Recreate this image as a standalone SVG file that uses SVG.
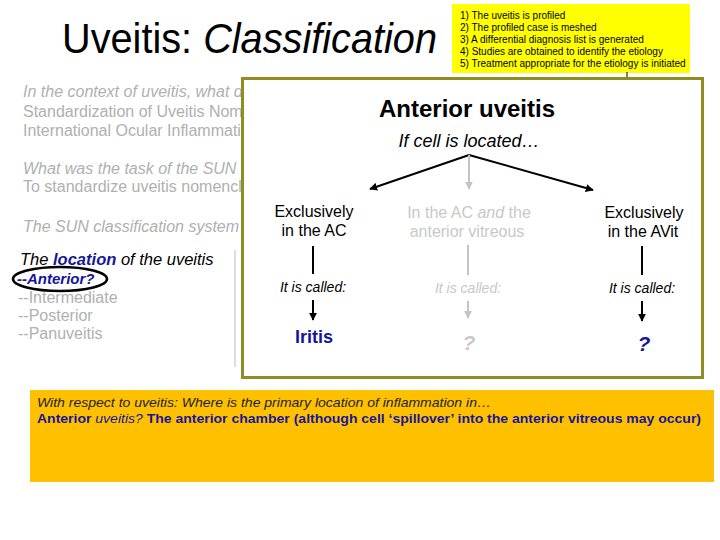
<svg xmlns="http://www.w3.org/2000/svg" width="720" height="540" viewBox="0 0 720 540">
<defs>
<marker id="ab" viewBox="0 0 10 10" refX="9" refY="5" markerWidth="4" markerHeight="4" orient="auto"><path d="M0,0 L10,5 L0,10 z" fill="#000"/></marker>
<marker id="ag" viewBox="0 0 10 10" refX="9" refY="5" markerWidth="4" markerHeight="4" orient="auto"><path d="M0,0 L10,5 L0,10 z" fill="#C4C4C4"/></marker>
</defs>
<style>
text{font-family:"Liberation Sans",Arial,sans-serif}
.g{fill:#B0B0B0;font-size:16px}
.lg{fill:#C8C8C8}
.it{font-style:italic}
.b{font-weight:bold}
.nv{fill:#16169A}
.col{font-size:16px;text-anchor:middle}
.call{font-size:14px;font-style:italic;text-anchor:middle}
.yl{font-size:10px;fill:#000}
</style>
<rect width="720" height="540" fill="#fff"/>
<g id="title"><text x="62" y="53" font-size="42" fill="#000" textLength="375" lengthAdjust="spacingAndGlyphs">Uveitis: <tspan class="it">Classification</tspan></text></g>
<g id="steps">
<rect x="452" y="4" width="238" height="69" fill="#FFFF00"/>
<text class="yl" x="460" y="19">1) The uveitis is profiled</text>
<text class="yl" x="460" y="31">2) The profiled case is meshed</text>
<text class="yl" x="460" y="43">3) A differential diagnosis list is generated</text>
<text class="yl" x="460" y="55">4) Studies are obtained to identify the etiology</text>
<text class="yl" x="460" y="67">5) Treatment appropriate for the etiology is initiated</text>
<line x1="627" y1="72" x2="627" y2="78" stroke="#000" stroke-width="1"/>
</g>
<g id="left-text">
<text class="g it" x="23" y="97">In the context of uveitis, what d</text>
<text class="g" x="23" y="117">Standardization of Uveitis Nom</text>
<text class="g" x="23" y="136">International Ocular Inflammati</text>
<text class="g it" x="23" y="174">What was the task of the SUN</text>
<text class="g" x="23" y="192">To standardize uveitis nomencl</text>
<text class="g it" x="23" y="232">The SUN classification system</text>
<text x="20" y="265" font-size="16.5" class="it" fill="#000">The <tspan class="b nv">location</tspan> of the uveitis</text>
<text x="17" y="284" font-size="15" class="it b nv">--Anterior?</text>
<ellipse cx="60" cy="279" rx="47" ry="12" fill="none" stroke="#000" stroke-width="2.5"/>
<text class="g" x="18" y="303" font-size="15">--Intermediate</text>
<text class="g" x="18" y="321" font-size="15">--Posterior</text>
<text class="g" x="18" y="339" font-size="15">--Panuveitis</text>
<line x1="235" y1="250" x2="235" y2="367" stroke="#BBBBBB" stroke-width="1"/>
</g>
<g id="panel">
<rect x="242.5" y="78.5" width="460" height="299" fill="#fff" stroke="#8E8E22" stroke-width="3"/>
<text x="467" y="117" font-size="24" class="b" text-anchor="middle" fill="#000">Anterior uveitis</text>
<text x="469" y="147" font-size="18" class="it" text-anchor="middle" fill="#000">If cell is located…</text>
</g>
<g id="connectors">
<line x1="469" y1="155" x2="370" y2="189" stroke="#000" stroke-width="2" marker-end="url(#ab)"/>
<line x1="469" y1="155" x2="593" y2="190" stroke="#000" stroke-width="2" marker-end="url(#ab)"/>
<line x1="469" y1="155" x2="469" y2="189" stroke="#C4C4C4" stroke-width="2" marker-end="url(#ag)"/>
<line x1="313" y1="246" x2="313" y2="274" stroke="#000" stroke-width="2"/>
<line x1="313" y1="300" x2="313" y2="320" stroke="#000" stroke-width="2" marker-end="url(#ab)"/>
<line x1="468" y1="245" x2="468" y2="275" stroke="#C4C4C4" stroke-width="2"/>
<line x1="468" y1="301" x2="468" y2="318" stroke="#C4C4C4" stroke-width="2" marker-end="url(#ag)"/>
<line x1="642" y1="246" x2="642" y2="275" stroke="#000" stroke-width="2"/>
<line x1="642" y1="301" x2="642" y2="321" stroke="#000" stroke-width="2" marker-end="url(#ab)"/>
</g>
<g id="col-ac">
<text class="col" x="314" y="217" fill="#000">Exclusively</text>
<text class="col" x="314" y="236" fill="#000">in the AC</text>
<text class="call" x="313" y="292" fill="#000">It is called:</text>
<text x="314" y="343" font-size="18" class="b nv" text-anchor="middle">Iritis</text>
</g>
<g id="col-mid">
<text class="col lg" x="469" y="218">In the AC <tspan class="it">and</tspan> the</text>
<text class="col lg" x="467" y="237">anterior vitreous</text>
<text class="call lg" x="468" y="293">It is called:</text>
<text x="469" y="350" font-size="21" class="b it lg" text-anchor="middle">?</text>
</g>
<g id="col-avit">
<text class="col" x="644" y="218" fill="#000">Exclusively</text>
<text class="col" x="643" y="237" fill="#000">in the AVit</text>
<text class="call" x="642" y="293" fill="#000">It is called:</text>
<text x="644" y="351" font-size="21" class="b it nv" text-anchor="middle">?</text>
</g>
<g id="note">
<rect x="30" y="390" width="684" height="92" fill="#FFC000"/>
<text x="37" y="407" font-size="13" class="it" fill="#222" textLength="454" lengthAdjust="spacingAndGlyphs">With respect to uveitis: Where is the primary location of inflammation in…</text>
<text x="37" y="423" font-size="13" class="b nv" textLength="664" lengthAdjust="spacingAndGlyphs">Anterior <tspan font-weight="normal" font-style="italic">uveitis?</tspan> The anterior chamber (although cell ‘spillover’ into the anterior vitreous may occur)</text>
</g>
</svg>
